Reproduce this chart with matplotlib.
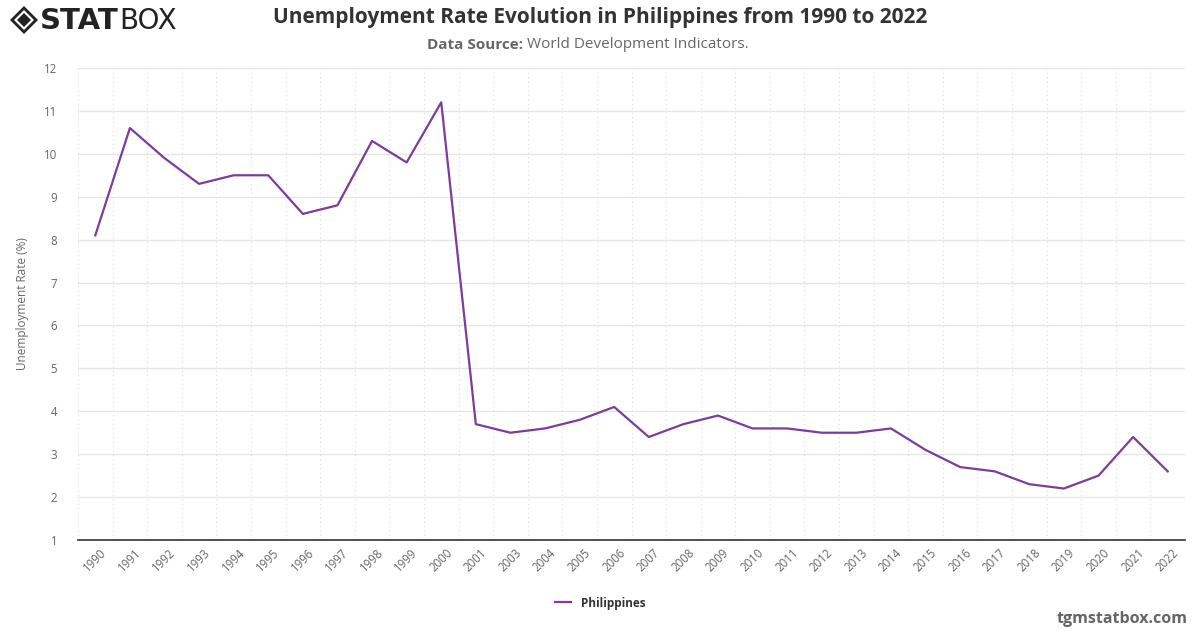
import numpy as np
import matplotlib
matplotlib.use('Agg')
from matplotlib import pyplot as plt
from matplotlib.patches import Polygon
from matplotlib.transforms import ScaledTranslation

plt.rcParams['font.family'] = ['Open Sans', 'DejaVu Sans']

years = ['1990', '1991', '1992', '1993', '1994', '1995', '1996', '1997', '1998', '1999',
         '2000', '2001', '2003', '2004', '2005', '2006', '2007', '2008', '2009', '2010',
         '2011', '2012', '2013', '2014', '2015', '2016', '2017', '2018', '2019', '2020',
         '2021', '2022']
rate = [8.1, 10.6, 9.9, 9.3, 9.5, 9.5, 8.6, 8.8, 10.3, 9.8,
        11.2, 3.7, 3.5, 3.6, 3.8, 4.1, 3.4, 3.7, 3.9, 3.6,
        3.6, 3.5, 3.5, 3.6, 3.1, 2.7, 2.6, 2.3, 2.2, 2.5,
        3.4, 2.6]
yticks = list(range(1, 13))

W, H = 1200, 630
fig = plt.figure(figsize=(12, 6.3), dpi=100)
ax = fig.add_axes([78 / W, 1 - 540 / H, 1107 / W, 472 / H])

x = np.arange(len(years))
line, = ax.plot(x, rate, color='#7b3d99', lw=1.6)

ax.set_xlim(-0.5, len(years) - 0.5)
ax.set_ylim(1, 12)
ax.set_yticks(yticks)
ax.set_yticklabels([str(v) for v in yticks])
ax.set_xticks(x)
ax.set_xticklabels(years, rotation=45, ha='right', va='center', rotation_mode='anchor')
ax.tick_params(axis='x', length=0, pad=8, labelsize=8.3, labelcolor='#666666')
ax.tick_params(axis='y', length=0, pad=15, labelsize=8.3, labelcolor='#666666')
shift = ScaledTranslation(9 / 100, 0, fig.dpi_scale_trans)
for lbl in ax.get_xticklabels():
    lbl.set_transform(lbl.get_transform() + shift)

# grid
for v in yticks[1:]:
    ax.axhline(v, color='#e6e6e6', lw=1, zorder=0)
for b in np.arange(-0.5, len(years) + 0.5, 1):
    ax.axvline(b, color='#dddddd', lw=0.8, ls=(0, (1, 3)), zorder=0)
for s in ['top', 'right', 'left']:
    ax.spines[s].set_visible(False)
ax.spines['bottom'].set_color('#333333')
ax.spines['bottom'].set_linewidth(1.2)

ax.set_ylabel('Unemployment Rate (%)', color='#666666', fontsize=8.5, labelpad=11)

# titles
fig.text(0.5, 1 - 18 / H, 'Unemployment Rate Evolution in Philippines from 1990 to 2022',
         ha='center', va='center', fontsize=15, fontweight='bold', color='#333333')
t1 = fig.text(427 / W, 1 - 45 / H, 'Data Source:', ha='left', va='center',
              fontsize=11, fontweight='bold', color='#666666')
fig.canvas.draw()
bb = t1.get_window_extent()
fig.text(bb.x1 / W, 1 - 45 / H, ' World Development Indicators.', ha='left', va='center',
         fontsize=11, color='#666666')

# legend
leg = fig.legend([line], ['Philippines'], loc='center', bbox_to_anchor=(600 / W, 1 - 603 / H),
                 frameon=False, handlelength=1.4, prop={'weight': 'bold', 'size': 8.5})
for t in leg.get_texts():
    t.set_color('#333333')

fig.text(1188 / W, 1 - 619 / H, 'tgmstatbox.com', ha='right', va='center',
         fontsize=11.5, fontweight='bold', color='#666666')

# logo
def diamond(cx, cy, r):
    return [((cx) / W, 1 - (cy - r) / H), ((cx + r) / W, 1 - cy / H),
            ((cx) / W, 1 - (cy + r) / H), ((cx - r) / W, 1 - cy / H)]

fig.patches.append(Polygon(diamond(24, 20, 14), closed=True, transform=fig.transFigure,
                           fc='#222222', ec='none'))
fig.patches.append(Polygon(diamond(24, 20, 10), closed=True, transform=fig.transFigure,
                           fc='white', ec='none'))
fig.patches.append(Polygon(diamond(24, 20, 7), closed=True, transform=fig.transFigure,
                           fc='#222222', ec='none'))
fig.text(40 / W, 1 - 21 / H, 'STAT', ha='left', va='center', fontsize=21,
         fontweight='heavy', color='#222222', family=['DejaVu Sans'])
fig.text(119 / W, 1 - 21 / H, 'BOX', ha='left', va='center', fontsize=20,
         color='#222222', family=['DejaVu Sans'])

fig.savefig('out.png', dpi=100, facecolor='white')
